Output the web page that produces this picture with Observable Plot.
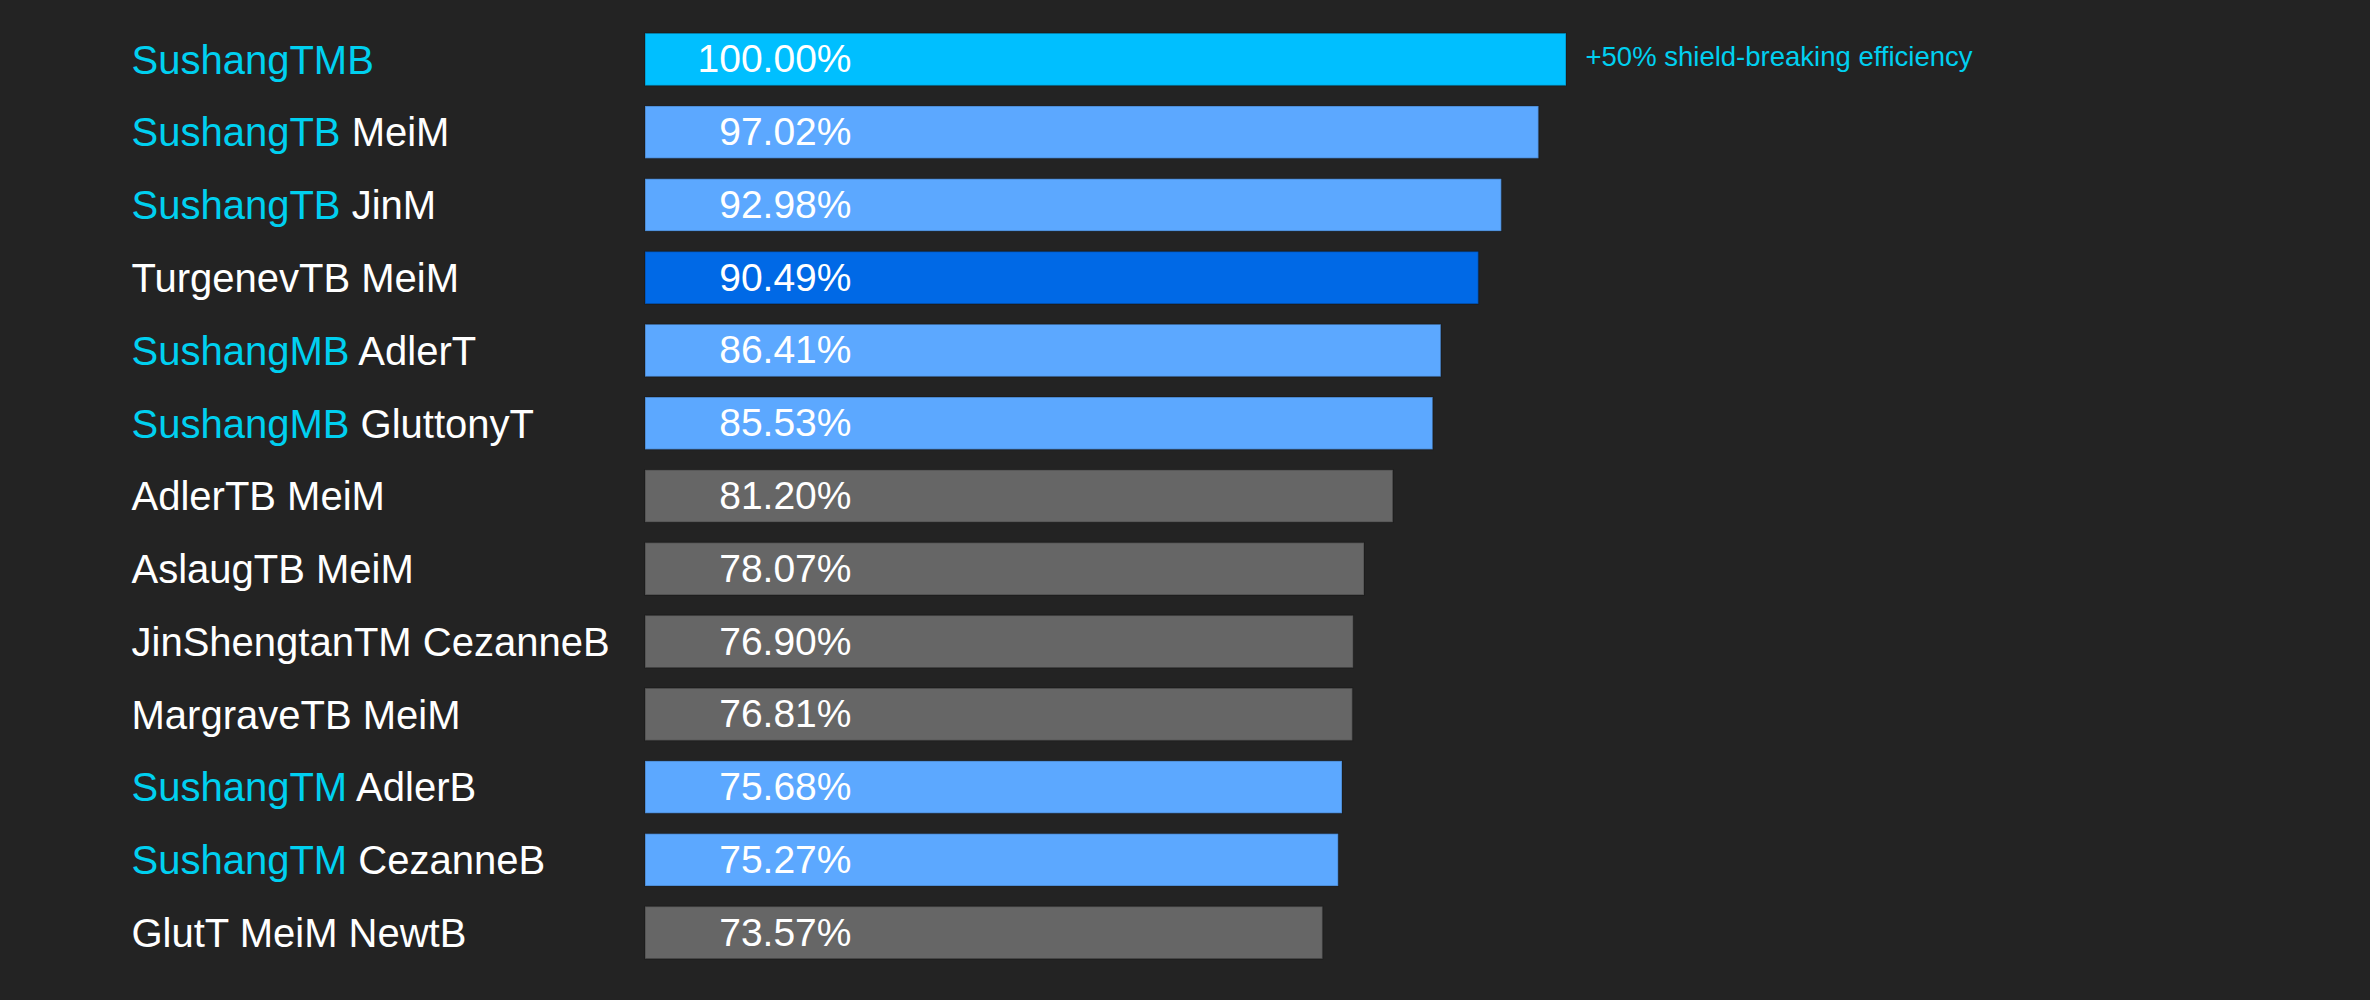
<!DOCTYPE html>
<html>
<head>
<meta charset="utf-8">
<script src="https://cdn.jsdelivr.net/npm/d3@7"></script>
<script src="https://cdn.jsdelivr.net/npm/@observablehq/plot@0.6"></script>
<style>
  html, body { margin: 0; padding: 0; background: #232323; }
  #chart { width: 2370px; height: 1000px; overflow: hidden; }
  svg { display: block; }
</style>
</head>
<body>
<div id="chart"></div>
<script>
// ---- data ----
const labelPrefix = ["SushangTMB", "SushangTB", "SushangTB", "", "SushangMB", "SushangMB", "", "", "", "", "SushangTM", "SushangTM", ""];
const labelRest = ["", "MeiM", "JinM", "TurgenevTB MeiM", "AdlerT", "GluttonyT", "AdlerTB MeiM", "AslaugTB MeiM", "JinShengtanTM CezanneB", "MargraveTB MeiM", "AdlerB", "CezanneB", "GlutT MeiM NewtB"];
const values = [100.00, 97.02, 92.98, 90.49, 86.41, 85.53, 81.20, 78.07, 76.90, 76.81, 75.68, 75.27, 73.57];
const groups = ["top", "sushang", "sushang", "turgenev", "sushang", "sushang", "other", "other", "other", "other", "sushang", "sushang", "other"];
const groupNames = ["top", "sushang", "turgenev", "other"];
const groupColors = ["#00bfff", "#5ca8ff", "#0069e6", "#666666"];
const note = "+50% shield-breaking efficiency";

const rows = values.map((v, i) => ({
  name: [labelPrefix[i], labelRest[i]].filter(s => s).join(" "),
  prefix: labelPrefix[i],
  rest: labelRest[i],
  value: v,
  group: groups[i]
}));
const names = rows.map(d => d.name);

const FONT = "'Liberation Sans', Arial, Helvetica, sans-serif";
const CYAN = "#00d0f0";

const plot = Plot.plot({
  width: 2370,
  height: 1000,
  marginLeft: 645,
  marginRight: 804,
  marginTop: 23,
  marginBottom: 31,
  style: { background: "#232323", fontFamily: FONT, color: "#ffffff", overflow: "visible" },
  x: { domain: [0, 100], axis: null },
  y: { domain: names, axis: null, paddingInner: 0.28, paddingOuter: 0.14, round: false },
  color: { domain: groupNames, range: groupColors },
  marks: [
    Plot.barX(rows, {
      x: "value", y: "name", fill: "group",
      stroke: "#000", strokeOpacity: 0.22, strokeWidth: 1.5
    }),
    Plot.text(rows, {
      x: 0, y: "name", text: d => d.value.toFixed(2) + "%",
      textAnchor: "end", dx: 206, fill: "#ffffff", fontSize: 39
    }),
    Plot.text(rows, {
      y: "name", text: "name", frameAnchor: "left",
      textAnchor: "start", dx: -514, dy: 1, fill: "#ffffff", fontSize: 40
    }),
    Plot.text(rows.slice(0, 1), {
      x: "value", y: "name", text: () => note,
      textAnchor: "start", dx: 19, dy: -3, fill: CYAN, fontSize: 27.5
    })
  ]
});

document.getElementById("chart").appendChild(plot);

// Two-tone row labels: cyan prefix, white remainder
const byName = new Map(rows.map(r => [r.name, r]));
plot.querySelectorAll("text").forEach(node => {
  const r = byName.get(node.textContent);
  if (!r) return;
  node.textContent = "";
  if (r.prefix) {
    const t1 = document.createElementNS("http://www.w3.org/2000/svg", "tspan");
    t1.setAttribute("fill", CYAN);
    t1.textContent = r.prefix + (r.rest ? " " : "");
    node.appendChild(t1);
  }
  if (r.rest) {
    const t2 = document.createElementNS("http://www.w3.org/2000/svg", "tspan");
    t2.setAttribute("fill", "#ffffff");
    t2.textContent = r.rest;
    node.appendChild(t2);
  }
});
</script>
</body>
</html>
